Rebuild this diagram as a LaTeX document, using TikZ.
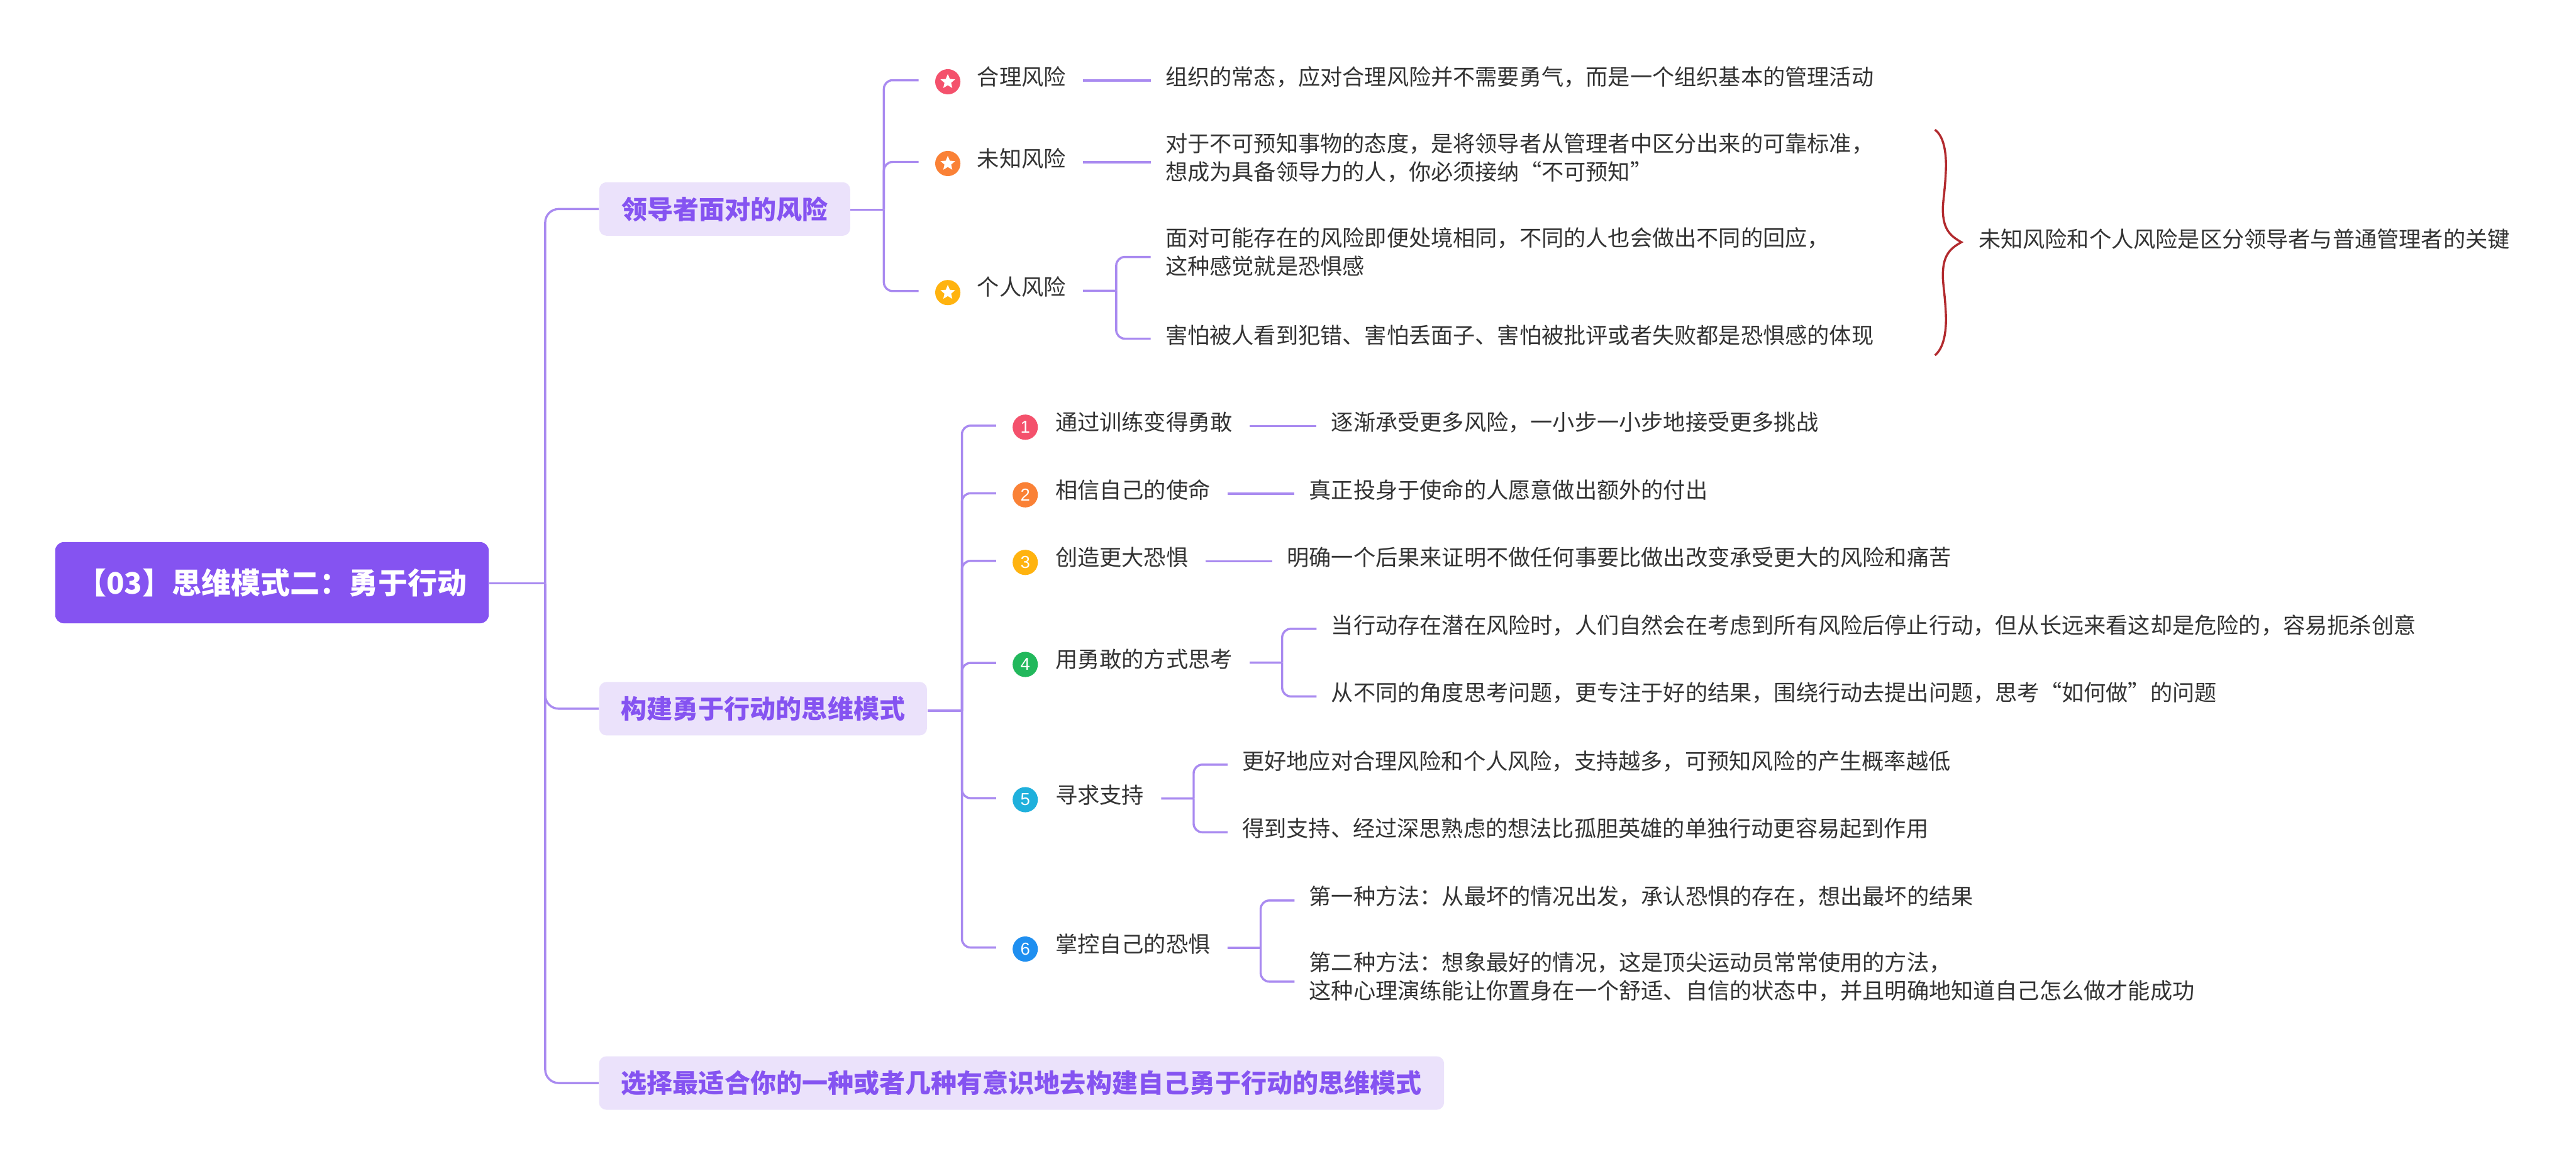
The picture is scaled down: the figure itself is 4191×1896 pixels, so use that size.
\documentclass[tikz,border=0pt]{standalone}
\usepackage{fontspec}
\setmainfont{Noto Sans CJK SC}
\newfontfamily\numfont{Liberation Sans}
\usetikzlibrary{shapes.geometric}
\definecolor{rootcol}{HTML}{8553F1}
\definecolor{branchcol}{HTML}{EBE2FB}
\definecolor{linecol}{HTML}{A98AF0}
\definecolor{textcol}{HTML}{333333}
\definecolor{bracecol}{HTML}{B22A2E}
\definecolor{redcol}{HTML}{F4516C}
\definecolor{orangecol}{HTML}{FA8136}
\definecolor{yellowcol}{HTML}{FFB30F}
\definecolor{greencol}{HTML}{22B85C}
\definecolor{cyancol}{HTML}{1FB0DC}
\definecolor{bluecol}{HTML}{1F8FF0}
\tikzset{
  rootbox/.style={fill=rootcol,text=white,rounded corners=.14cm,inner sep=0,
    minimum width=7.05cm,minimum height=1.32cm,font=\fontsize{13.66pt}{17pt}\selectfont\bfseries},
  branchbox/.style={fill=branchcol,text=rootcol,rounded corners=.12cm,inner sep=0,
    minimum height=.87cm,font=\fontsize{11.95pt}{15pt}\selectfont\bfseries},
  lbl/.style={anchor=west,inner sep=0,outer xsep=.28cm,text=textcol,font=\fontsize{10.24pt}{13.2pt}\selectfont},
  txt/.style={anchor=west,inner sep=0,outer xsep=.24cm,text=textcol,align=left,font=\fontsize{10.24pt}{13.2pt}\selectfont},
  icon/.style={circle,fill=#1,inner sep=0,minimum size=.41cm,outer sep=.27cm,text=white,font=\fontsize{8pt}{10pt}\numfont},
  whitestar/.style={star,star points=5,star point ratio=2.2,fill=white,inner sep=0,minimum size=.25cm},
  conn/.style={draw=linecol,line width=.035cm},
  connbend/.style={conn,rounded corners=.14cm},
  trunkbend/.style={conn,rounded corners=.22cm},
  low/.style={yshift=-#1},low/.default=.06cm,
  up/.style={yshift=.025cm}
}

\begin{document}
\begin{tikzpicture}[x=.01cm,y=-.01cm]
    \useasboundingbox (0,0) rectangle (4191,1896);
    \fill[white] (0,0) rectangle (4191,1896);

    %root and the three branches
    \node[rootbox] (root) at (442.5,948) {【03】思维模式二：勇于行动};
    \node[branchbox,minimum width=4.08cm] (risk) at (1179,340) {领导者面对的风险};
    \node[branchbox,minimum width=5.33cm] (build) at (1241.5,1153) {构建勇于行动的思维模式};
    \node[branchbox,minimum width=13.74cm] (choose) at (1662,1762) {选择最适合你的一种或者几种有意识地去构建自己勇于行动的思维模式};

    \coordinate (trunk) at (887,949);
    \draw[conn] (root.east |- trunk) -- (trunk);
    \draw[trunkbend] (trunk) |- (risk.west);
    \draw[trunkbend] (trunk) |- (build.west);
    \draw[trunkbend] (trunk) |- (choose.west);

    %first branch: kinds of risk
    \foreach \nm/\ypos/\col in {a/133/redcol,b/266/orangecol,c/476/yellowcol}{
        \node[icon=\col] (icon\nm) at (1542,\ypos) {};
        \node[whitestar] (star\nm) at (icon\nm) {};
    }
    \node[lbl] (rlabela) at (1562,125) {合理风险};
    \node[lbl] (rlabelb) at (1562,258) {未知风险};
    \node[lbl] (rlabelc) at (1562,467) {个人风险};
    \node[txt] (rtexta) at (1872,125) {组织的常态，应对合理风险并不需要勇气，而是一个组织基本的管理活动};
    \node[txt] (rtextb) at (1872,257) {对于不可预知事物的态度，是将领导者从管理者中区分出来的可靠标准，\\想成为具备领导力的人，你必须接纳“不可预知”};
    \node[txt] (rtextc) at (1872,410) {面对可能存在的风险即便处境相同，不同的人也会做出不同的回应，\\这种感觉就是恐惧感};
    \node[txt] (rtextd) at (1872,545) {害怕被人看到犯错、害怕丢面子、害怕被批评或者失败都是恐惧感的体现};

    \coordinate (riskfork) at (1438,341);
    \coordinate (rfork) at (1816,473);
    \draw[conn] (risk.east |- riskfork) -- (riskfork);
    \draw[connbend] (riskfork) |- ([up]icona.west);
    \draw[connbend] (riskfork) |- ([up]iconb.west);
    \draw[connbend] (riskfork) |- ([up]iconc.west);
    \draw[conn] ([low]rlabela.east) -- ([low]rlabela.east -| rtexta.west);
    \draw[conn] ([low]rlabelb.east) -- ([low]rlabelb.east -| rtextb.west);
    \draw[conn] ([low]rlabelc.east) -- (rfork);
    \draw[connbend] (rfork) |- ([low=.08cm]rtextc.west);
    \draw[connbend] (rfork) |- ([low]rtextd.west);

    %brace and its note
    \coordinate (bracetop) at (3148,211);
    \coordinate (bracetip) at (3191,394);
    \coordinate (bracebot) at (3148,578);
    \draw[bracecol,line width=.035cm] (bracetop) .. controls (3160,220) and (3166,240) .. (3166,270)
        .. controls (3165,310) and (3160,330) .. (3161,345) .. controls (3162,375) and (3175,385) .. (bracetip)
        .. controls (3175,403) and (3162,413) .. (3161,443) .. controls (3160,460) and (3165,480) .. (3166,518)
        .. controls (3166,548) and (3160,568) .. (bracebot);
    \node[lbl,outer xsep=0] (bracenote) at (3219,389) {未知风险和个人风险是区分领导者与普通管理者的关键};

    %second branch: six numbered steps
    \foreach \nm/\ypos/\col/\num in {a/695/redcol/1,b/805/orangecol/2,c/915/yellowcol/3,d/1081/greencol/4,e/1301/cyancol/5,f/1544/bluecol/6}{
        \node[icon=\col] (step\nm) at (1668,\ypos) {\num};
    }
    \node[lbl] (blabela) at (1689,687) {通过训练变得勇敢};
    \node[lbl] (blabelb) at (1689,797) {相信自己的使命};
    \node[lbl] (blabelc) at (1689,907) {创造更大恐惧};
    \node[lbl] (blabeld) at (1689,1072) {用勇敢的方式思考};
    \node[lbl] (blabele) at (1689,1293) {寻求支持};
    \node[lbl] (blabelf) at (1689,1536) {掌控自己的恐惧};

    \node[txt] (btexta) at (2142,687) {逐渐承受更多风险，一小步一小步地接受更多挑战};
    \node[txt] (btextb) at (2106,797) {真正投身于使命的人愿意做出额外的付出};
    \node[txt] (btextc) at (2070,907) {明确一个后果来证明不做任何事要比做出改变承受更大的风险和痛苦};
    \node[txt] (btextd) at (2142,1017) {当行动存在潜在风险时，人们自然会在考虑到所有风险后停止行动，但从长远来看这却是危险的，容易扼杀创意};
    \node[txt] (btexte) at (2142,1127) {从不同的角度思考问题，更专注于好的结果，围绕行动去提出问题，思考“如何做”的问题};
    \node[txt] (btextf) at (1997,1238) {更好地应对合理风险和个人风险，支持越多，可预知风险的产生概率越低};
    \node[txt] (btextg) at (1997,1348) {得到支持、经过深思熟虑的想法比孤胆英雄的单独行动更容易起到作用};
    \node[txt] (btexth) at (2106,1459) {第一种方法：从最坏的情况出发，承认恐惧的存在，想出最坏的结果};
    \node[txt] (btexti) at (2106,1589) {第二种方法：想象最好的情况，这是顶尖运动员常常使用的方法，\\这种心理演练能让你置身在一个舒适、自信的状态中，并且明确地知道自己怎么做才能成功};

    \coordinate (buildfork) at (1565,1156);
    \coordinate (dfork) at (2086,1078);
    \coordinate (efork) at (1942,1299);
    \coordinate (ffork) at (2051,1542);
    \draw[conn] (build.east |- buildfork) -- (buildfork);
    \foreach \nm in {a,b,c,d,e,f}{
        \draw[connbend] (buildfork) |- ([up]step\nm.west);
    }
    \draw[conn] ([low]blabela.east) -- ([low]blabela.east -| btexta.west);
    \draw[conn] ([low]blabelb.east) -- ([low]blabelb.east -| btextb.west);
    \draw[conn] ([low]blabelc.east) -- ([low]blabelc.east -| btextc.west);
    \draw[conn] ([low]blabeld.east) -- (dfork);
    \draw[conn] ([low]blabele.east) -- (efork);
    \draw[conn] ([low]blabelf.east) -- (ffork);
    \draw[connbend] (dfork) |- ([low]btextd.west);
    \draw[connbend] (dfork) |- ([low]btexte.west);
    \draw[connbend] (efork) |- ([low]btextf.west);
    \draw[connbend] (efork) |- ([low]btextg.west);
    \draw[connbend] (ffork) |- ([low]btexth.west);
    \draw[connbend] (ffork) |- ([low=.08cm]btexti.west);
\end{tikzpicture}
\end{document}
